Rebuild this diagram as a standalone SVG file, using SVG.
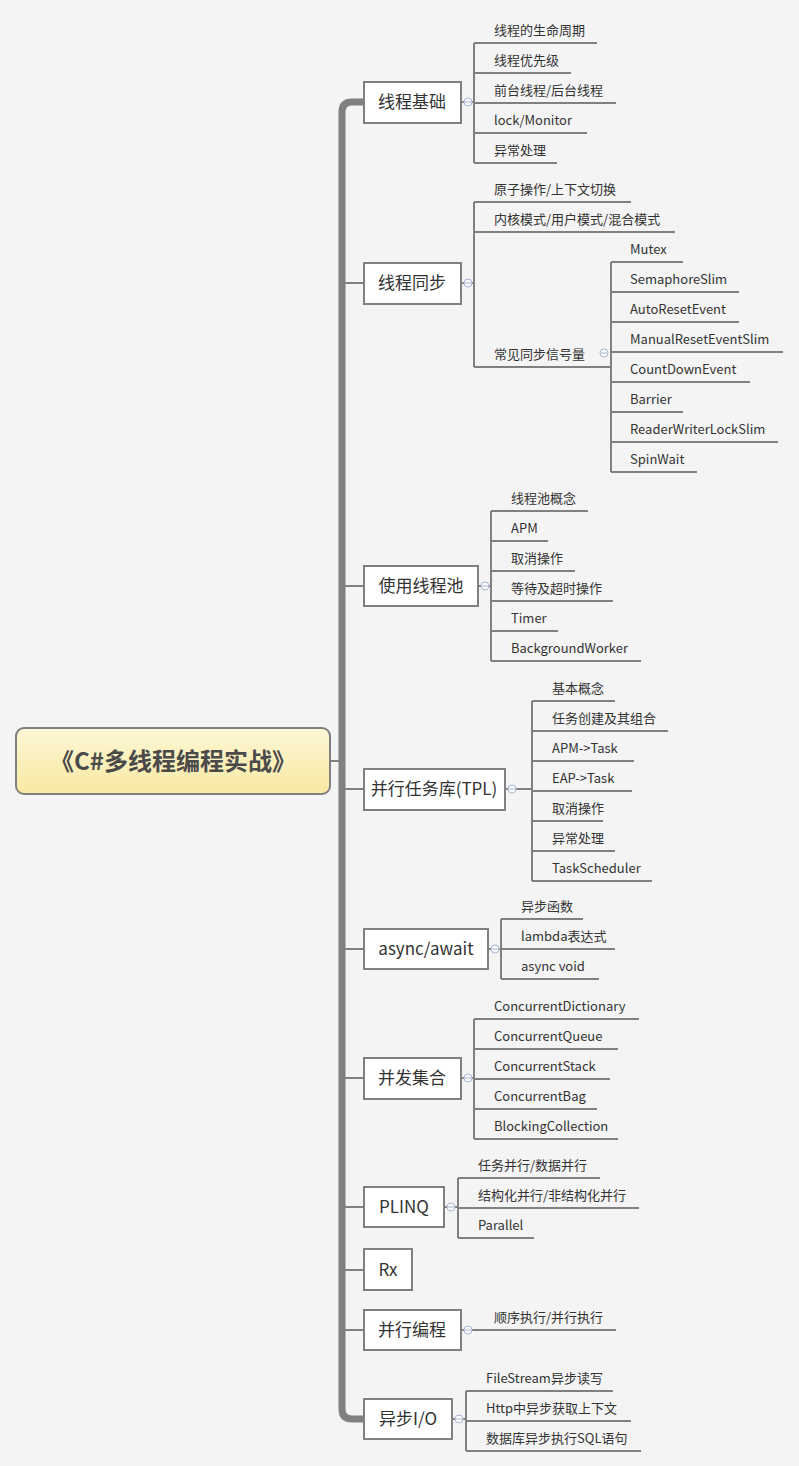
<svg xmlns="http://www.w3.org/2000/svg" width="799" height="1466" viewBox="0 0 799 1466">
<defs>
<linearGradient id="rg" x1="0" y1="0" x2="0" y2="1"><stop offset="0" stop-color="#fdf7d6"/><stop offset="1" stop-color="#f8e9a2"/></linearGradient>
<style>
text{font-family:"Noto Sans CJK SC","Noto Sans",sans-serif;fill:#333}
.l{font-size:13px}
.n{font-size:17px}
.nb{fill:#fff;stroke:#808080;stroke-width:2}
.c{fill:none;stroke:#808080;stroke-width:2}
.sp{fill:none;stroke:#808080;stroke-width:7}
.t{fill:#fff;stroke:#a8b4d4;stroke-width:1}
.tm{stroke:#a8b4d4;stroke-width:1}
</style>
</defs>
<rect width="799" height="1466" fill="#f4f4f4"/>
<g id="connectors">
<path class="sp" d="M364,102 L352,102 Q342,102 342,112 L342,1409 Q342,1419 352,1419 L364,1419"/>
<path class="c" d="M330,761 H340 M342,283 H364 M342,586 H364 M342,789 H364 M342,949 H364 M342,1078 H364 M342,1207 H364 M342,1270 H364 M342,1330 H364"/>
<!-- 1 -->
<path class="c" d="M461,102 H474 M474,43 V163 M474,43 H597 M474,73 H571 M474,103 H616 M474,133 H587 M474,163 H557"/>
<!-- 2 -->
<path class="c" d="M461,283 H474 M474,202 V367 M474,202 H631 M474,232 H675 M474,367 H611 M611,262 V472 M611,262 H683 M611,292 H739 M611,322 H739 M611,352 H783 M611,382 H750 M611,412 H683 M611,442 H778 M611,472 H697"/>
<!-- 3 -->
<path class="c" d="M478,586 H491 M491,511 V661 M491,511 H588 M491,541 H548 M491,571 H575 M491,601 H613 M491,631 H558 M491,661 H641"/>
<!-- 4 -->
<path class="c" d="M505,789 H532 M532,701 V881 M532,701 H615 M532,731 H668 M532,761 H634 M532,791 H632 M532,821 H603 M532,851 H615 M532,881 H652"/>
<!-- 5 -->
<path class="c" d="M488,949 H501 M501,919 V979 M501,919 H583 M501,949 H615 M501,979 H599"/>
<!-- 6 -->
<path class="c" d="M461,1078 H474 M474,1019 V1139 M474,1019 H639 M474,1049 H618 M474,1079 H610 M474,1109 H597 M474,1139 H618"/>
<!-- 7 -->
<path class="c" d="M444,1207 H458 M458,1178 V1238 M458,1178 H600 M458,1208 H639 M458,1238 H534"/>
<!-- 9 -->
<path class="c" d="M461,1330 H616"/>
<!-- 10 -->
<path class="c" d="M452,1419 H466 M466,1391 V1451 M466,1391 H613 M466,1421 H631 M466,1451 H641"/>
<g>
<circle class="t" cx="468" cy="102" r="4"/><path class="tm" d="M465,102 H471"/>
<circle class="t" cx="468" cy="283" r="4"/><path class="tm" d="M465,283 H471"/>
<circle class="t" cx="604" cy="353" r="4"/><path class="tm" d="M601,353 H607"/>
<circle class="t" cx="485" cy="586" r="4"/><path class="tm" d="M482,586 H488"/>
<circle class="t" cx="512" cy="789" r="4"/><path class="tm" d="M509,789 H515"/>
<circle class="t" cx="495" cy="949" r="4"/><path class="tm" d="M492,949 H498"/>
<circle class="t" cx="468" cy="1078" r="4"/><path class="tm" d="M465,1078 H471"/>
<circle class="t" cx="451" cy="1207" r="4"/><path class="tm" d="M448,1207 H454"/>
<circle class="t" cx="468" cy="1330" r="4"/><path class="tm" d="M465,1330 H471"/>
<circle class="t" cx="459" cy="1419" r="4"/><path class="tm" d="M456,1419 H462"/>
</g>
</g>
<g id="root"><rect x="16" y="728" width="314" height="66" rx="8" fill="url(#rg)" stroke="#808080" stroke-width="2"/><text x="173" y="770" text-anchor="middle" font-size="24" font-weight="bold" style="fill:#4a4a4a">《C#多线程编程实战》</text></g>
<g id="n1"><rect class="nb" x="364" y="82" width="97" height="41"/><text class="n" x="412" y="108" text-anchor="middle">线程基础</text></g>
<g id="n2"><rect class="nb" x="364" y="263" width="97" height="41"/><text class="n" x="412" y="289" text-anchor="middle">线程同步</text></g>
<g id="n3"><rect class="nb" x="364" y="566" width="114" height="40"/><text class="n" x="421" y="592" text-anchor="middle">使用线程池</text></g>
<g id="n4"><rect class="nb" x="364" y="769" width="141" height="41"/><text class="n" x="434" y="795" text-anchor="middle">并行任务库(TPL)</text></g>
<g id="n5"><rect class="nb" x="364" y="929" width="124" height="40"/><text class="n" x="426" y="955" text-anchor="middle">async/await</text></g>
<g id="n6"><rect class="nb" x="364" y="1058" width="97" height="41"/><text class="n" x="412" y="1084" text-anchor="middle">并发集合</text></g>
<g id="n7"><rect class="nb" x="364" y="1187" width="80" height="40"/><text class="n" x="404" y="1213" text-anchor="middle">PLINQ</text></g>
<g id="n8"><rect class="nb" x="364" y="1249" width="48" height="41"/><text class="n" x="388" y="1276" text-anchor="middle">Rx</text></g>
<g id="n9"><rect class="nb" x="364" y="1310" width="97" height="40"/><text class="n" x="412" y="1336" text-anchor="middle">并行编程</text></g>
<g id="n10"><rect class="nb" x="364" y="1399" width="88" height="40"/><text class="n" x="408" y="1425" text-anchor="middle">异步I/O</text></g>
<g id="leaves" class="l">
<text class="l" x="494" y="35">线程的生命周期</text>
<text class="l" x="494" y="65">线程优先级</text>
<text class="l" x="494" y="95">前台线程/后台线程</text>
<text class="l" x="494" y="125">lock/Monitor</text>
<text class="l" x="494" y="155">异常处理</text>
<text class="l" x="494" y="194">原子操作/上下文切换</text>
<text class="l" x="494" y="224">内核模式/用户模式/混合模式</text>
<text class="l" x="494" y="359">常见同步信号量</text>
<text class="l" x="630" y="254">Mutex</text>
<text class="l" x="630" y="284">SemaphoreSlim</text>
<text class="l" x="630" y="314">AutoResetEvent</text>
<text class="l" x="630" y="344">ManualResetEventSlim</text>
<text class="l" x="630" y="374">CountDownEvent</text>
<text class="l" x="630" y="404">Barrier</text>
<text class="l" x="630" y="434">ReaderWriterLockSlim</text>
<text class="l" x="630" y="464">SpinWait</text>
<text class="l" x="511" y="503">线程池概念</text>
<text class="l" x="511" y="533">APM</text>
<text class="l" x="511" y="563">取消操作</text>
<text class="l" x="511" y="593">等待及超时操作</text>
<text class="l" x="511" y="623">Timer</text>
<text class="l" x="511" y="653">BackgroundWorker</text>
<text class="l" x="552" y="693">基本概念</text>
<text class="l" x="552" y="723">任务创建及其组合</text>
<text class="l" x="552" y="753">APM-&gt;Task</text>
<text class="l" x="552" y="783">EAP-&gt;Task</text>
<text class="l" x="552" y="813">取消操作</text>
<text class="l" x="552" y="843">异常处理</text>
<text class="l" x="552" y="873">TaskScheduler</text>
<text class="l" x="521" y="911">异步函数</text>
<text class="l" x="521" y="941">lambda表达式</text>
<text class="l" x="521" y="971">async void</text>
<text class="l" x="494" y="1011">ConcurrentDictionary</text>
<text class="l" x="494" y="1041">ConcurrentQueue</text>
<text class="l" x="494" y="1071">ConcurrentStack</text>
<text class="l" x="494" y="1101">ConcurrentBag</text>
<text class="l" x="494" y="1131">BlockingCollection</text>
<text class="l" x="478" y="1170">任务并行/数据并行</text>
<text class="l" x="478" y="1200">结构化并行/非结构化并行</text>
<text class="l" x="478" y="1230">Parallel</text>
<text class="l" x="494" y="1322">顺序执行/并行执行</text>
<text class="l" x="486" y="1383">FileStream异步读写</text>
<text class="l" x="486" y="1413">Http中异步获取上下文</text>
<text class="l" x="486" y="1443">数据库异步执行SQL语句</text>
</g>
</svg>
